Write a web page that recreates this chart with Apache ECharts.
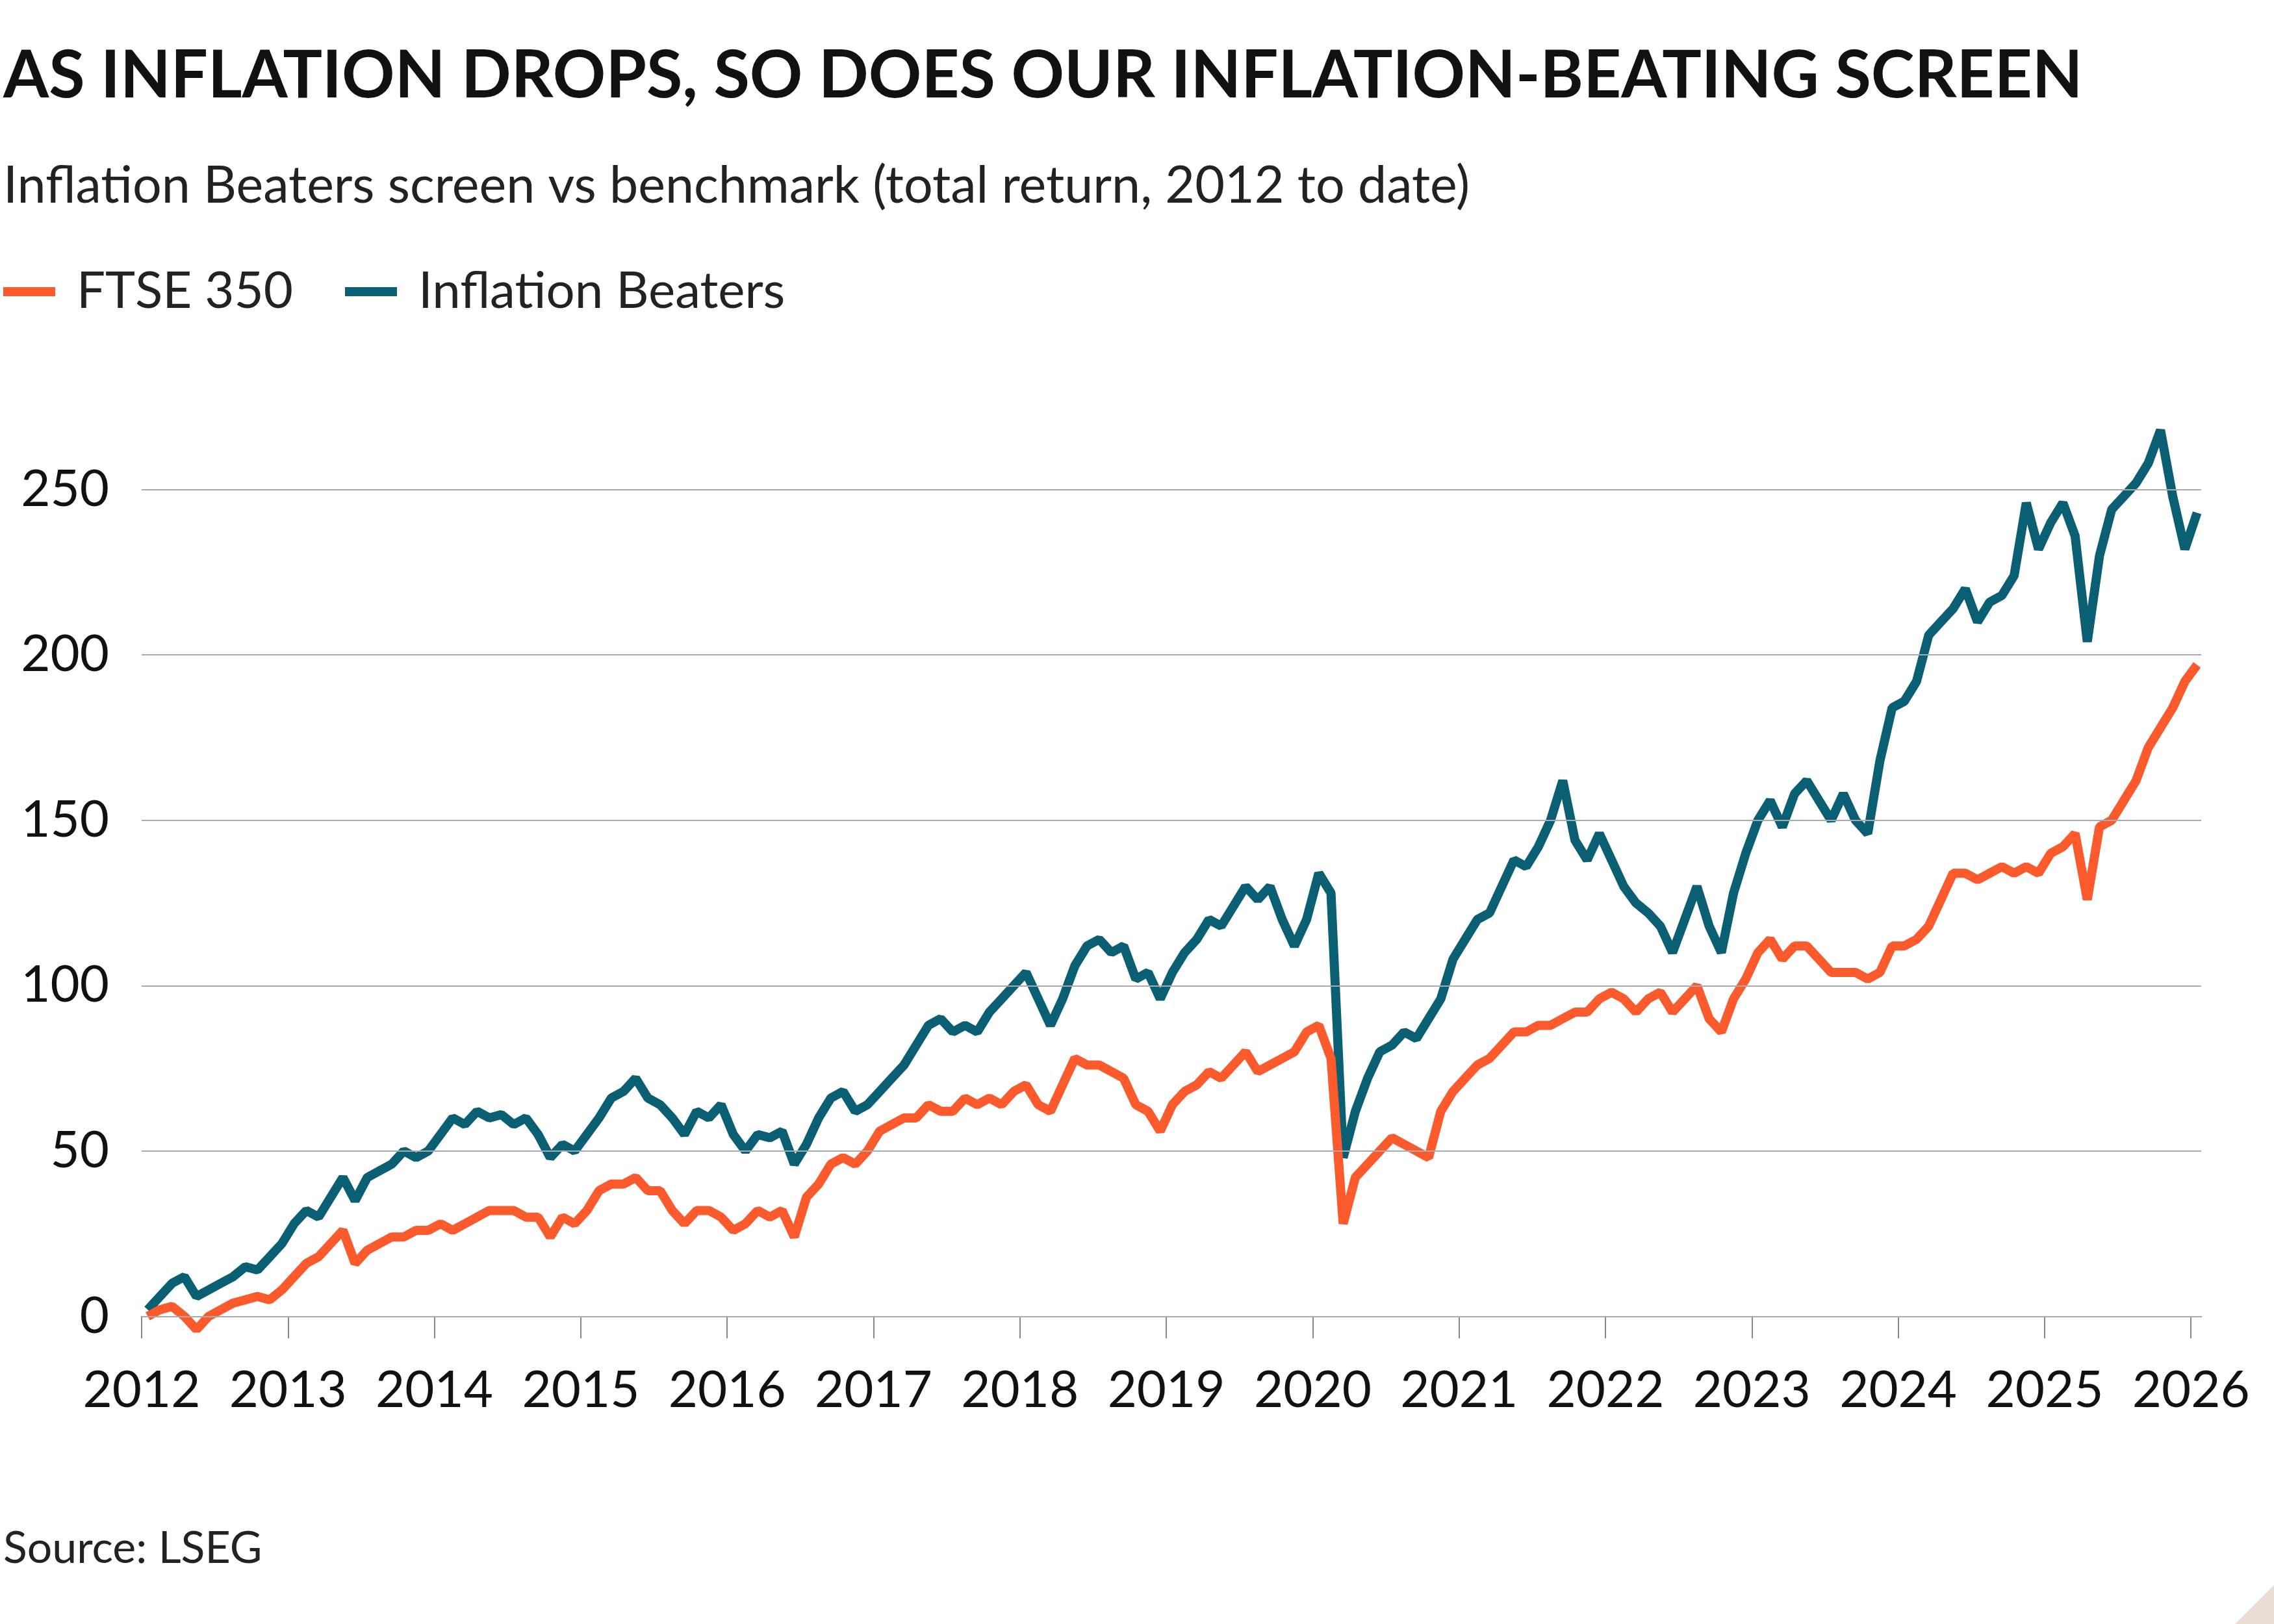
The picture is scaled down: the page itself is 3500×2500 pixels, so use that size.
<!DOCTYPE html>
<html style="height: 100%">
<head>
	<meta charset="utf-8">
</head>
<body style="height: 100%; margin: 0; background: #fff">
	<div id="container" style="width: 3500px; height: 2500px"></div>
	<script type="text/javascript" src="https://cdn.jsdelivr.net/npm/echarts@6/dist/echarts.min.js"></script>
	<script type="text/javascript">
		// monthly points, Jan 2012 .. Jan 2026, as decimal years (mid-month)
		var months = [];
		for (var y = 2012; y <= 2026; y++) {
			for (var m = 0; m < 12; m++) {
				if (y === 2026 && m > 0) break;
				months.push(y + (m + 0.5) / 12);
			}
		}
		var yTicks = [0, 50, 100, 150, 200, 250];

		var ftse = [
			0, 2, 3, 0, -4, 0, 2, 4, 5, 6, 5, 8,
			12, 16, 18, 22, 26, 16, 20, 22, 24, 24, 26, 26,
			28, 26, 28, 30, 32, 32, 32, 30, 30, 24, 30, 28,
			32, 38, 40, 40, 42, 38, 38, 32, 28, 32, 32, 30,
			26, 28, 32, 30, 32, 24, 36, 40, 46, 48, 46, 50,
			56, 58, 60, 60, 64, 62, 62, 66, 64, 66, 64, 68,
			70, 64, 62, 70, 78, 76, 76, 74, 72, 64, 62, 56,
			64, 68, 70, 74, 72, 76, 80, 74, 76, 78, 80, 86,
			88, 78, 28, 42, 46, 50, 54, 52, 50, 48, 62, 68,
			72, 76, 78, 82, 86, 86, 88, 88, 90, 92, 92, 96,
			98, 96, 92, 96, 98, 92, 96, 100, 90, 86, 96, 102,
			110, 114, 108, 112, 112, 108, 104, 104, 104, 102, 104, 112,
			112, 114, 118, 126, 134, 134, 132, 134, 136, 134, 136, 134,
			140, 142, 146, 126, 148, 150, 156, 162, 172, 178, 184, 192,
			197
		];
		var beaters = [
			2, 6, 10, 12, 6, 8, 10, 12, 15, 14, 18, 22,
			28, 32, 30, 36, 42, 35, 42, 44, 46, 50, 48, 50,
			55, 60, 58, 62, 60, 61, 58, 60, 55, 48, 52, 50,
			55, 60, 66, 68, 72, 66, 64, 60, 55, 62, 60, 64,
			55, 50, 55, 54, 56, 46, 52, 60, 66, 68, 62, 64,
			68, 72, 76, 82, 88, 90, 86, 88, 86, 92, 96, 100,
			104, 96, 88, 96, 106, 112, 114, 110, 112, 102, 104, 96,
			104, 110, 114, 120, 118, 124, 130, 126, 130, 120, 112, 120,
			134, 128, 48, 62, 72, 80, 82, 86, 84, 90, 96, 108,
			114, 120, 122, 130, 138, 136, 142, 150, 162, 144, 138, 146,
			138, 130, 125, 122, 118, 110, 120, 130, 118, 110, 128, 140,
			150, 156, 148, 158, 162, 156, 150, 158, 150, 146, 168, 184,
			186, 192, 206, 210, 214, 220, 210, 216, 218, 224, 246, 232,
			240, 246, 236, 204, 230, 244, 248, 252, 258, 268, 248, 232,
			243
		];

		var dom = document.getElementById('container');
		var myChart = echarts.init(dom);
		var font = 'Lato';

		function pairs(vals) {
			return vals.map(function (v, i) { return [months[i], v]; });
		}

		var option = {
			backgroundColor: '#fff',
			animation: false,
			title: [{
				text: 'AS INFLATION DROPS, SO DOES OUR INFLATION-BEATING SCREEN',
				left: 0, top: 62,
				textStyle: { fontFamily: font, fontWeight: 'bold', fontSize: 101, color: '#111' }
			}, {
				text: 'Inflation Beaters screen vs benchmark (total return, 2012 to date)',
				left: 0, top: 242,
				textStyle: { fontFamily: font, fontWeight: 'normal', fontSize: 79, color: '#222' }
			}, {
				text: 'Source: LSEG',
				left: 0, top: 2345,
				textStyle: { fontFamily: font, fontWeight: 'normal', fontSize: 68, color: '#222' }
			}],
			legend: {
				left: 0, top: 405,
				itemWidth: 80, itemHeight: 14, itemGap: 80,
				icon: 'rect',
				textStyle: { fontFamily: font, fontSize: 78, color: '#222', padding: [0, 0, 0, 28] },
				data: ['FTSE 350', 'Inflation Beaters']
			},
			grid: { left: 218, right: 112, top: 601, bottom: 438 },
			xAxis: {
				type: 'value',
				min: 2012,
				max: 2026.07,
				interval: 1,
				axisLine: { show: true, lineStyle: { color: '#888', width: 2 } },
				axisTick: { show: true, length: 34, lineStyle: { color: '#888', width: 2 } },
				axisLabel: {
					fontFamily: font, fontSize: 78, color: '#111', margin: 40,
					showMaxLabel: false,
					formatter: function (v) { return Math.abs(v - Math.round(v)) < 1e-6 ? String(Math.round(v)) : ''; }
				},
				splitLine: { show: false }
			},
			yAxis: {
				type: 'value',
				min: -7,
				max: 280,
				axisLine: { show: false },
				axisTick: { show: false },
				splitLine: { show: false },
				axisLabel: {
					fontFamily: font, fontSize: 78, color: '#111', margin: 50,
					customValues: yTicks
				}
			},
			series: [{
				name: 'FTSE 350',
				type: 'line',
				data: pairs(ftse),
				showSymbol: false,
				color: '#fa5a2c',
				lineStyle: { width: 14 },
				z: 3,
				markLine: {
					silent: true, symbol: 'none', label: { show: false },
					lineStyle: { color: '#aaa', width: 2, type: 'solid' },
					data: yTicks.map(function (t) { return { yAxis: t }; })
				}
			}, {
				name: 'Inflation Beaters',
				type: 'line',
				data: pairs(beaters),
				showSymbol: false,
				color: '#0b5f73',
				lineStyle: { width: 14 },
				z: 2
			}],
			graphic: [{
				type: 'polygon',
				shape: { points: [[3500, 2440], [3500, 2500], [3440, 2500]] },
				style: { fill: '#e8ddd3' }
			}]
		};

		myChart.setOption(option);
	</script>
</body>
</html>
